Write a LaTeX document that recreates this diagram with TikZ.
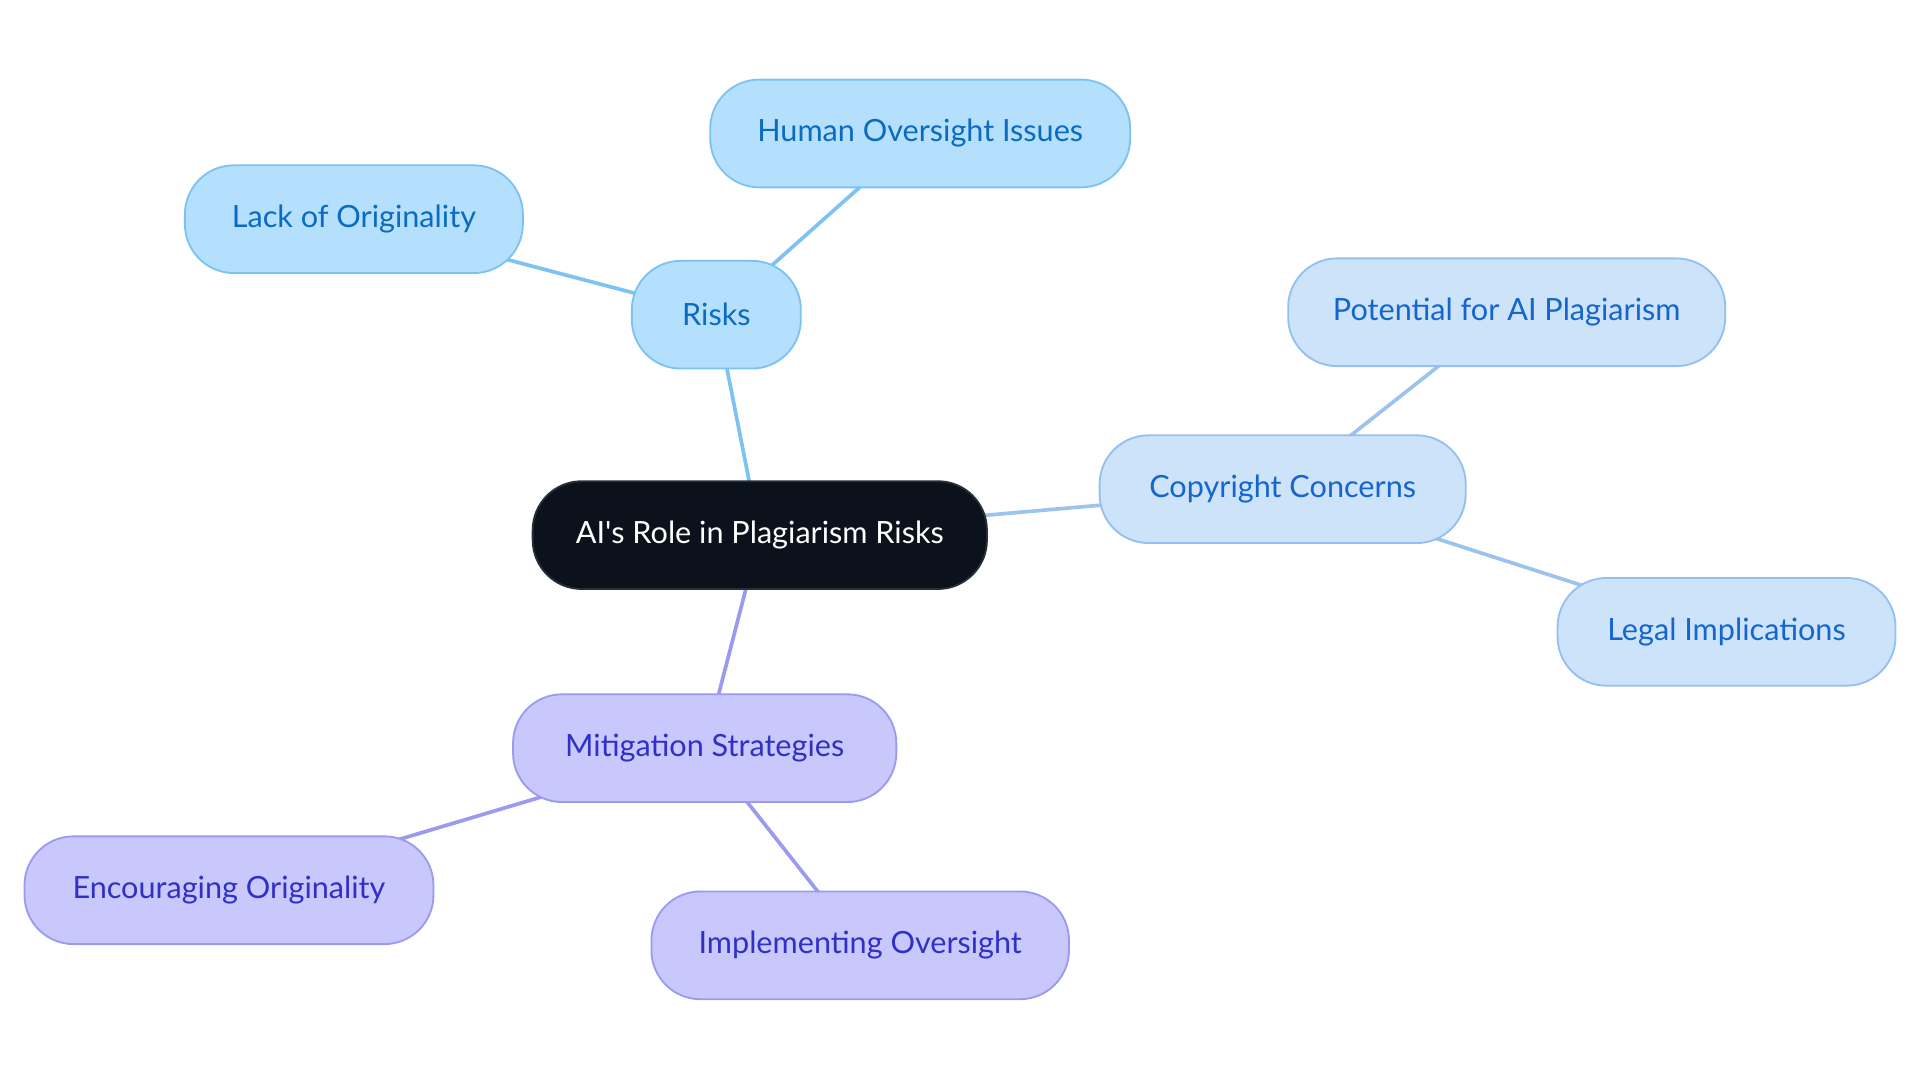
\documentclass[tikz,border=0pt]{standalone}
\usepackage{fontspec}
\setmainfont{Lato}
\usetikzlibrary{backgrounds}
\definecolor{cfill}{HTML}{0C121C}
\definecolor{cdraw}{HTML}{2A2F36}
\definecolor{rfill}{HTML}{B5E0FD}
\definecolor{rdraw}{HTML}{7CC2F2}
\definecolor{rtext}{HTML}{0A6BC0}
\definecolor{kfill}{HTML}{CCE3FA}
\definecolor{kdraw}{HTML}{93C0F0}
\definecolor{ktext}{HTML}{1565D0}
\definecolor{kline}{HTML}{9CC3EE}
\definecolor{mfill}{HTML}{C8C8FC}
\definecolor{mdraw}{HTML}{9A9AF0}
\definecolor{mtext}{HTML}{3030C8}
\begin{document}
\begin{tikzpicture}[x=1pt,y=-1pt,
  box/.style={rounded corners=40pt, minimum height=88pt, inner xsep=0pt, line width=1.5pt, font=\fontsize{25}{29}\selectfont},
  center/.style={box, fill=cfill, draw=cdraw, text=white},
  rbox/.style={box, fill=rfill, draw=rdraw, text=rtext},
  kbox/.style={box, fill=kfill, draw=kdraw, text=ktext},
  mbox/.style={box, fill=mfill, draw=mdraw, text=mtext},
  rline/.style={draw=rdraw, line width=3pt},
  kline/.style={draw=kline, line width=3pt},
  mline/.style={draw=mdraw, line width=3pt}]
\useasboundingbox (0,0) rectangle (1568,884.5);
\node[center, minimum width=371pt] (c) at (620.5,437) {AI\textquotesingle s Role in Plagiarism Risks};
\node[rbox, minimum width=138pt] (r) at (585,257) {Risks};
\node[rbox, minimum width=343pt] (r1) at (751.5,109) {Human Oversight Issues};
\node[rbox, minimum width=276pt] (r2) at (289,179) {Lack of Originality};
\node[kbox, minimum width=299pt] (k) at (1047.5,399.5) {Copyright Concerns};
\node[kbox, minimum width=357pt] (k1) at (1230.5,255) {Potential for AI Plagiarism};
\node[kbox, minimum width=276pt] (k2) at (1410,516) {Legal Implications};
\node[mbox, minimum width=313pt] (m) at (575.5,611) {Mitigation Strategies};
\node[mbox, minimum width=334pt] (m1) at (187,727) {Encouraging Originality};
\node[mbox, minimum width=341pt] (m2) at (702.5,772) {Implementing Oversight};
\begin{scope}[on background layer]
\draw[rline] (c.center) -- (r.center);
\draw[rline] (r.center) -- (r1.center);
\draw[rline] (r.center) -- (r2.center);
\draw[kline] (c.center) -- (k.center);
\draw[kline] (k.center) -- (k1.center);
\draw[kline] (k.center) -- (k2.center);
\draw[mline] (c.center) -- (m.center);
\draw[mline] (m.center) -- (m1.center);
\draw[mline] (m.center) -- (m2.center);
\end{scope}
\end{tikzpicture}
\end{document}
